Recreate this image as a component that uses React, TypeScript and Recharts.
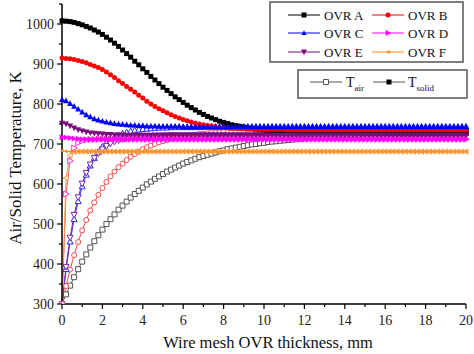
import React from 'react';
import { LineChart, Line, XAxis, YAxis } from 'recharts';

// Wire mesh thickness (mm)
const xs = [
  0, 0.2, 0.4, 0.6, 0.8, 1, 1.2, 1.4, 1.6, 1.8,
  2, 2.2, 2.4, 2.6, 2.8, 3, 3.2, 3.4, 3.6, 3.8,
  4, 4.2, 4.4, 4.6, 4.8, 5, 5.2, 5.4, 5.6, 5.8,
  6, 6.2, 6.4, 6.6, 6.8, 7, 7.2, 7.4, 7.6, 7.8,
  8, 8.2, 8.4, 8.6, 8.8, 9, 9.2, 9.4, 9.6, 9.8,
  10, 10.2, 10.4, 10.6, 10.8, 11, 11.2, 11.4, 11.6, 11.8,
  12, 12.2, 12.4, 12.6, 12.8, 13, 13.2, 13.4, 13.6, 13.8,
  14, 14.2, 14.4, 14.6, 14.8, 15, 15.2, 15.4, 15.6, 15.8,
  16, 16.2, 16.4, 16.6, 16.8, 17, 17.2, 17.4, 17.6, 17.8,
  18, 18.2, 18.4, 18.6, 18.8, 19, 19.2, 19.4, 19.6, 19.8, 20,
];

const solidA = [
  1008, 1007, 1006, 1004, 1001, 998, 994, 990, 985, 980,
  974, 967, 960, 952, 944, 935, 926, 917, 907, 898,
  888, 879, 869, 860, 851, 842, 834, 826, 818, 811,
  804, 797, 791, 785, 779, 774, 769, 765, 761, 757,
  754, 751, 748, 746, 744, 742, 740, 739, 737, 736,
  735, 734, 733, 733, 732, 732, 731, 731, 730, 730,
  730, 730, 729, 729, 729, 729, 729, 729, 729, 729,
  729, 729, 729, 729, 728, 728, 728, 728, 728, 728,
  728, 728, 728, 728, 728, 728, 728, 728, 728, 728,
  728, 728, 728, 728, 728, 728, 728, 728, 728, 728, 728,
];
const airA = [
  300, 324, 346, 367, 387, 406, 424, 441, 457, 472,
  486, 500, 512, 524, 536, 546, 556, 566, 575, 583,
  591, 599, 606, 613, 619, 625, 631, 636, 641, 646,
  651, 655, 659, 663, 667, 670, 673, 676, 679, 682,
  684, 687, 689, 691, 693, 695, 697, 699, 700, 702,
  703, 705, 706, 707, 708, 709, 710, 711, 712, 713,
  714, 715, 716, 716, 717, 718, 718, 719, 719, 720,
  720, 721, 721, 721, 722, 722, 722, 723, 723, 723,
  724, 724, 724, 724, 724, 725, 725, 725, 725, 725,
  726, 726, 726, 726, 726, 726, 726, 726, 727, 727, 727,
];
const solidB = [
  915, 914, 913, 911, 909, 906, 903, 899, 895, 891,
  886, 880, 873, 866, 858, 851, 844, 837, 830, 822,
  815, 807, 800, 794, 788, 783, 778, 773, 769, 765,
  761, 758, 755, 752, 750, 748, 746, 745, 743, 742,
  741, 740, 739, 739, 738, 738, 737, 737, 737, 736,
  736, 736, 736, 736, 736, 736, 735, 735, 735, 735,
  735, 735, 735, 735, 735, 735, 735, 735, 735, 735,
  735, 735, 735, 735, 735, 735, 735, 735, 735, 735,
  735, 735, 735, 735, 735, 735, 735, 735, 735, 735,
  735, 735, 735, 735, 735, 735, 735, 735, 735, 735, 735,
];
const airB = [
  300, 345, 386, 422, 455, 484, 510, 534, 554, 573,
  590, 605, 619, 631, 642, 651, 660, 668, 675, 681,
  687, 692, 696, 700, 704, 707, 710, 713, 715, 717,
  719, 721, 722, 723, 725, 726, 727, 728, 728, 729,
  730, 730, 731, 731, 731, 732, 732, 732, 733, 733,
  733, 733, 733, 734, 734, 734, 734, 734, 734, 734,
  734, 734, 734, 734, 734, 735, 735, 735, 735, 735,
  735, 735, 735, 735, 735, 735, 735, 735, 735, 735,
  735, 735, 735, 735, 735, 735, 735, 735, 735, 735,
  735, 735, 735, 735, 735, 735, 735, 735, 735, 735, 735,
];
const solidC = [
  811, 808, 801, 794, 787, 780, 773, 768, 763, 760,
  757, 755, 753, 751, 750, 749, 748, 747, 747, 746,
  746, 745, 745, 745, 744, 744, 744, 744, 744, 744,
  743, 743, 743, 743, 743, 743, 743, 743, 743, 743,
  743, 743, 743, 743, 743, 743, 743, 743, 743, 743,
  743, 743, 743, 743, 743, 743, 743, 743, 743, 743,
  743, 743, 743, 743, 743, 743, 743, 743, 743, 743,
  743, 743, 743, 743, 743, 743, 743, 743, 743, 743,
  743, 743, 743, 743, 743, 743, 743, 743, 743, 743,
  743, 743, 743, 743, 743, 743, 743, 743, 743, 743, 743,
];
const airC = [
  300, 387, 456, 512, 557, 594, 623, 646, 665, 680,
  693, 702, 710, 717, 722, 726, 729, 732, 734, 736,
  737, 738, 739, 740, 741, 741, 741, 742, 742, 742,
  742, 742, 742, 742, 742, 743, 743, 743, 743, 743,
  743, 743, 743, 743, 743, 743, 743, 743, 743, 743,
  743, 743, 743, 743, 743, 743, 743, 743, 743, 743,
  743, 743, 743, 743, 743, 743, 743, 743, 743, 743,
  743, 743, 743, 743, 743, 743, 743, 743, 743, 743,
  743, 743, 743, 743, 743, 743, 743, 743, 743, 743,
  743, 743, 743, 743, 743, 743, 743, 743, 743, 743, 743,
];
const solidD = [
  717, 716, 715, 714, 713, 712, 712, 712, 712, 712,
  712, 712, 712, 712, 712, 712, 712, 712, 712, 712,
  712, 712, 712, 712, 712, 712, 712, 712, 712, 712,
  712, 712, 712, 712, 712, 712, 712, 712, 712, 712,
  712, 712, 712, 712, 712, 712, 712, 712, 712, 712,
  712, 712, 712, 712, 712, 712, 712, 712, 712, 712,
  712, 712, 712, 712, 712, 712, 712, 712, 712, 712,
  712, 712, 712, 712, 712, 712, 712, 712, 712, 712,
  712, 712, 712, 712, 712, 712, 712, 712, 712, 712,
  712, 712, 712, 712, 712, 712, 712, 712, 712, 712, 712,
];
const airD = [
  300, 575, 658, 690, 703, 708, 710, 711, 711, 712,
  712, 712, 712, 712, 712, 712, 712, 712, 712, 712,
  712, 712, 712, 712, 712, 712, 712, 712, 712, 712,
  712, 712, 712, 712, 712, 712, 712, 712, 712, 712,
  712, 712, 712, 712, 712, 712, 712, 712, 712, 712,
  712, 712, 712, 712, 712, 712, 712, 712, 712, 712,
  712, 712, 712, 712, 712, 712, 712, 712, 712, 712,
  712, 712, 712, 712, 712, 712, 712, 712, 712, 712,
  712, 712, 712, 712, 712, 712, 712, 712, 712, 712,
  712, 712, 712, 712, 712, 712, 712, 712, 712, 712, 712,
];
const solidE = [
  752, 750, 745, 740, 736, 733, 730, 728, 727, 726,
  725, 724, 724, 723, 723, 723, 722, 722, 722, 722,
  722, 722, 722, 722, 722, 722, 722, 722, 722, 722,
  722, 722, 722, 722, 722, 722, 722, 722, 722, 722,
  722, 722, 722, 722, 722, 722, 722, 722, 722, 722,
  722, 722, 722, 722, 722, 722, 722, 722, 722, 722,
  722, 722, 722, 722, 722, 722, 722, 722, 722, 722,
  722, 722, 722, 722, 722, 722, 722, 722, 722, 722,
  722, 722, 722, 722, 722, 722, 722, 722, 722, 722,
  722, 722, 722, 722, 722, 722, 722, 722, 722, 722, 722,
];
const airE = [
  300, 393, 466, 523, 567, 601, 628, 649, 665, 677,
  687, 695, 701, 706, 709, 712, 714, 716, 717, 718,
  719, 720, 720, 721, 721, 721, 722, 722, 722, 722,
  722, 722, 722, 722, 722, 722, 722, 722, 722, 722,
  722, 722, 722, 722, 722, 722, 722, 722, 722, 722,
  722, 722, 722, 722, 722, 722, 722, 722, 722, 722,
  722, 722, 722, 722, 722, 722, 722, 722, 722, 722,
  722, 722, 722, 722, 722, 722, 722, 722, 722, 722,
  722, 722, 722, 722, 722, 722, 722, 722, 722, 722,
  722, 722, 722, 722, 722, 722, 722, 722, 722, 722, 722,
];
const solidF = [
  683, 682, 681, 681, 681, 681, 681, 681, 681, 681,
  681, 681, 681, 681, 681, 681, 681, 681, 681, 681,
  681, 681, 681, 681, 681, 681, 681, 681, 681, 681,
  681, 681, 681, 681, 681, 681, 681, 681, 681, 681,
  681, 681, 681, 681, 681, 681, 681, 681, 681, 681,
  681, 681, 681, 681, 681, 681, 681, 681, 681, 681,
  681, 681, 681, 681, 681, 681, 681, 681, 681, 681,
  681, 681, 681, 681, 681, 681, 681, 681, 681, 681,
  681, 681, 681, 681, 681, 681, 681, 681, 681, 681,
  681, 681, 681, 681, 681, 681, 681, 681, 681, 681, 681,
];
const airF = [
  300, 615, 672, 680, 681, 681, 681, 681, 681, 681,
  681, 681, 681, 681, 681, 681, 681, 681, 681, 681,
  681, 681, 681, 681, 681, 681, 681, 681, 681, 681,
  681, 681, 681, 681, 681, 681, 681, 681, 681, 681,
  681, 681, 681, 681, 681, 681, 681, 681, 681, 681,
  681, 681, 681, 681, 681, 681, 681, 681, 681, 681,
  681, 681, 681, 681, 681, 681, 681, 681, 681, 681,
  681, 681, 681, 681, 681, 681, 681, 681, 681, 681,
  681, 681, 681, 681, 681, 681, 681, 681, 681, 681,
  681, 681, 681, 681, 681, 681, 681, 681, 681, 681, 681,
];

const xTicks = [0, 1, 2, 3, 4, 5, 6, 7, 8, 9, 10, 11, 12, 13, 14, 15, 16, 17, 18, 19, 20];
const yTicks = [300, 350, 400, 450, 500, 550, 600, 650, 700, 750, 800, 850, 900, 950, 1000, 1050];
const legendNames = ['OVR A', 'OVR B', 'OVR C', 'OVR D', 'OVR E', 'OVR F'];
const xTitle = 'Wire mesh OVR thickness, mm';
const yTitle = 'Air/Solid Temperature, K';

const FONT = '"Liberation Serif", "Times New Roman", serif';

const data = xs.map((x, i) => ({
  x,
  sA: solidA[i], aA: airA[i],
  sB: solidB[i], aB: airB[i],
  sC: solidC[i], aC: airC[i],
  sD: solidD[i], aD: airD[i],
  sE: solidE[i], aE: airE[i],
  sF: solidF[i], aF: airF[i],
}));

type Shape = 'square' | 'circle' | 'up' | 'down' | 'right' | 'left';

function shapeEl(shape: Shape, cx: number, cy: number, s: number, fill: string, stroke: string, sw: number, key?: any) {
  const h = s / 2;
  if (shape === 'circle') {
    return <circle key={key} cx={cx} cy={cy} r={h} fill={fill} stroke={stroke} strokeWidth={sw} />;
  }
  let d = '';
  if (shape === 'square') d = `M${cx - h},${cy - h}h${s}v${s}h${-s}Z`;
  if (shape === 'up') d = `M${cx},${cy - h * 1.1}L${cx + h},${cy + h * 0.8}L${cx - h},${cy + h * 0.8}Z`;
  if (shape === 'down') d = `M${cx},${cy + h * 1.1}L${cx + h},${cy - h * 0.8}L${cx - h},${cy - h * 0.8}Z`;
  if (shape === 'right') d = `M${cx + h * 1.1},${cy}L${cx - h * 0.8},${cy - h}L${cx - h * 0.8},${cy + h}Z`;
  if (shape === 'left') d = `M${cx - h * 1.1},${cy}L${cx + h * 0.8},${cy - h}L${cx + h * 0.8},${cy + h}Z`;
  return <path key={key} d={d} fill={fill} stroke={stroke} strokeWidth={sw} />;
}

function makeDot(shape: Shape, s: number, fill: string, stroke: string, sw: number) {
  return (p: any) => {
    const { cx, cy, index } = p;
    if (cx == null || cy == null) return <g key={index} />;
    return shapeEl(shape, cx, cy, s, fill, stroke, sw, index);
  };
}

const YTick = (props: any) => {
  const { x, y, payload } = props;
  const major = payload.value % 100 === 0;
  return (
    <g>
      <line x1={x - (major ? 5 : 3)} x2={x} y1={y} y2={y} stroke="#000" strokeWidth={1.2} />
      {major && payload.value <= 1000 && (
        <text x={x - 8} y={y} textAnchor="end" dominantBaseline="central" fontSize={14} fontFamily={FONT} fill="#222">
          {payload.value}
        </text>
      )}
    </g>
  );
};

const XTick = (props: any) => {
  const { x, y, payload } = props;
  const major = payload.value % 2 === 0;
  return (
    <g>
      <line x1={x} x2={x} y1={y} y2={y + (major ? 5 : 3)} stroke="#000" strokeWidth={1.2} />
      {major && (
        <text x={x} y={y + 16} textAnchor="middle" dominantBaseline="central" fontSize={14} fontFamily={FONT} fill="#222">
          {payload.value}
        </text>
      )}
    </g>
  );
};

type SeriesDef = { key: string; line: string; shape: Shape; size: number; fill: string; stroke: string; sw: number };

const airSeries: SeriesDef[] = [
  { key: 'aA', line: '#555555', shape: 'square', size: 5, fill: '#ffffff', stroke: '#555555', sw: 1 },
  { key: 'aB', line: '#f04a4a', shape: 'circle', size: 5, fill: '#ffffff', stroke: '#f04a4a', sw: 1 },
  { key: 'aC', line: '#2a2aff', shape: 'up', size: 6, fill: '#ffffff', stroke: '#2a2aff', sw: 1 },
  { key: 'aE', line: '#7a2a9a', shape: 'down', size: 6, fill: '#ffffff', stroke: '#7a2a9a', sw: 1 },
  { key: 'aD', line: '#f0508a', shape: 'right', size: 6, fill: '#ffffff', stroke: '#ff33cc', sw: 1 },
  { key: 'aF', line: '#f59a40', shape: 'left', size: 5, fill: '#ffffff', stroke: '#f59a40', sw: 1 },
];
const solidSeries: SeriesDef[] = [
  { key: 'sA', line: '#000000', shape: 'square', size: 5, fill: '#000000', stroke: '#000000', sw: 0 },
  { key: 'sB', line: '#ff0000', shape: 'circle', size: 5, fill: '#ff0000', stroke: '#ff0000', sw: 0 },
  { key: 'sC', line: '#0000ff', shape: 'up', size: 6, fill: '#0000ff', stroke: '#0000ff', sw: 0 },
  { key: 'sE', line: '#7b0a7b', shape: 'down', size: 6, fill: '#7b0a7b', stroke: '#7b0a7b', sw: 0 },
  { key: 'sD', line: '#ff00ff', shape: 'right', size: 6, fill: '#ff00ff', stroke: '#ff00ff', sw: 0 },
  { key: 'sF', line: '#ff8c1a', shape: 'left', size: 4, fill: '#ff8c1a', stroke: '#ff8c1a', sw: 0 },
];

const legendItems: { name: string; color: string; shape: Shape; size: number }[] = [
  { name: legendNames[0], color: '#000000', shape: 'square', size: 5 },
  { name: legendNames[1], color: '#ff0000', shape: 'circle', size: 5 },
  { name: legendNames[2], color: '#0000ff', shape: 'up', size: 5 },
  { name: legendNames[3], color: '#ff00ff', shape: 'right', size: 6 },
  { name: legendNames[4], color: '#7b0a7b', shape: 'down', size: 6 },
  { name: legendNames[5], color: '#ff8c1a', shape: 'left', size: 4 },
];

function Overlay() {
  const rowsY = [15, 33, 52];
  const colX = [288, 372];
  return (
    <svg width={474} height={354} style={{ position: 'absolute', left: 0, top: 0, pointerEvents: 'none' }}>
      <rect x={270} y={2} width={193} height={60} fill="#fff" stroke="#555" strokeWidth={1.5} />
      {legendItems.map((it, i) => {
        const cx = colX[i % 2];
        const cy = rowsY[Math.floor(i / 2)];
        return (
          <g key={it.name}>
            <line x1={cx} x2={cx + 32} y1={cy} y2={cy} stroke={it.color} strokeWidth={1} />
            {shapeEl(it.shape, cx + 16, cy, it.size, it.color, it.color, 0)}
            <text x={cx + 36} y={cy} dominantBaseline="central" fontSize={13} fontFamily={FONT} fill="#111">
              {it.name}
            </text>
          </g>
        );
      })}
      <rect x={298} y={70} width={169} height={28} fill="#fff" stroke="#555" strokeWidth={1.5} />
      <line x1={310} x2={342} y1={82} y2={82} stroke="#555" strokeWidth={1} />
      {shapeEl('square', 326, 82, 5, '#fff', '#555', 1)}
      <text x={346} y={87} fontSize={14} fontFamily={FONT} fill="#111">
        T<tspan fontSize={9} dy={4}>air</tspan>
      </text>
      <line x1={373} x2={405} y1={82} y2={82} stroke="#555" strokeWidth={1} />
      {shapeEl('square', 389, 82, 5, '#000', '#000', 0)}
      <text x={408} y={87} fontSize={14} fontFamily={FONT} fill="#111">
        T<tspan fontSize={9} dy={4}>solid</tspan>
      </text>
      <text x={268} y={348} textAnchor="middle" fontSize={16.5} fontFamily={FONT} fill="#111">
        {xTitle}
      </text>
      <text
        x={15}
        y={158}
        transform="rotate(-90 15 158)"
        textAnchor="middle"
        dominantBaseline="central"
        fontSize={17}
        fontFamily={FONT}
        fill="#111"
      >
        {yTitle}
      </text>
    </svg>
  );
}

export default function App() {
  return (
    <div style={{ position: 'absolute', left: 0, top: 0, width: 474, height: 354, background: '#fff', overflow: 'hidden' }}>
      <LineChart width={474} height={354} data={data} margin={{ top: 4, right: 8, bottom: 0, left: 0 }}>
        <XAxis
          dataKey="x"
          type="number"
          domain={[0, 20]}
          ticks={xTicks}
          interval={0}
          height={50}
          tickSize={0}
          tickMargin={0}
          tickLine={false}
          axisLine={{ stroke: '#000', strokeWidth: 1.5 }}
          tick={<XTick />}
        />
        <YAxis
          type="number"
          domain={[300, 1050]}
          ticks={yTicks}
          interval={0}
          width={62}
          tickSize={0}
          tickMargin={0}
          tickLine={false}
          allowDataOverflow
          axisLine={{ stroke: '#000', strokeWidth: 1.5 }}
          tick={<YTick />}
        />
        {airSeries.map((s) => (
          <Line
            key={s.key}
            dataKey={s.key}
            type="linear"
            stroke={s.line}
            strokeWidth={1}
            dot={makeDot(s.shape, s.size, s.fill, s.stroke, s.sw)}
            activeDot={false}
            isAnimationActive={false}
          />
        ))}
        {solidSeries.map((s) => (
          <Line
            key={s.key}
            dataKey={s.key}
            type="linear"
            stroke={s.line}
            strokeWidth={1}
            dot={makeDot(s.shape, s.size, s.fill, s.stroke, s.sw)}
            activeDot={false}
            isAnimationActive={false}
          />
        ))}
      </LineChart>
      <Overlay />
    </div>
  );
}
